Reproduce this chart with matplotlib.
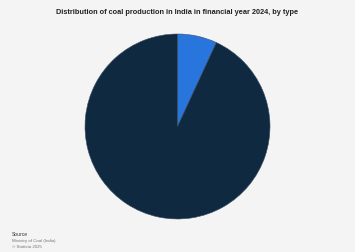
import matplotlib.pyplot as plt

plt.rcParams['font.family'] = ['Liberation Sans', 'DejaVu Sans']

labels = ['Coking coal', 'Non-coking coal']
shares = [6.9, 93.1]
colors = ['#2876dd', '#0f2940']

fig = plt.figure(figsize=(3.55, 2.53), dpi=100, facecolor='#f4f4f4')
ax = fig.add_axes([(177.5 - 92.5)/355, (253 - 127.5 - 92.5)/253, 185/355, 185/253])
ax.set_facecolor('#f4f4f4')

ax.pie(shares, colors=colors, startangle=90, counterclock=False,
       wedgeprops=dict(linewidth=0.4, edgecolor='#3a5066'))
ax.set_xlim(-1, 1)
ax.set_ylim(-1, 1)
ax.set_aspect('equal')

fig.text(0.5, 1 - 12.5/253, 'Distribution of coal production in India in financial year 2024, by type',
         ha='center', va='center', fontsize=5.3, fontweight='bold', color='#222222')

fig.text(12/355, 1 - 235/253, 'Source', fontsize=3.6, color='#333333', va='center')
fig.text(12/355, 1 - 241/253, 'Ministry of Coal (India)', fontsize=3.2, color='#777777', va='center')
fig.text(12/355, 1 - 247/253, '© Statista 2025', fontsize=3.2, color='#777777', va='center')

fig.savefig('out.png', dpi=100, facecolor=fig.get_facecolor())
